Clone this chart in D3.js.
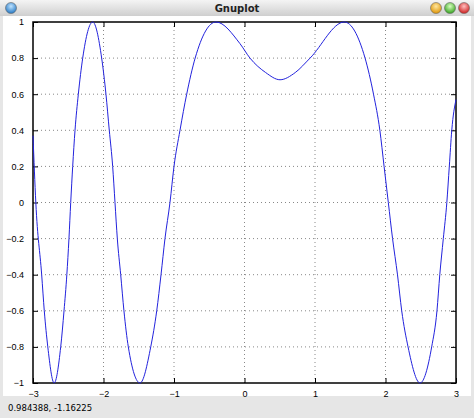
<!DOCTYPE html>
<html><head><meta charset="utf-8">
<script src="https://cdn.jsdelivr.net/npm/d3@7"></script>
<style>
html,body{margin:0;padding:0;background:#dcdcdc;}
svg{display:block;font-family:"DejaVu Sans",sans-serif;}
</style></head>
<body><svg id="c" width="474" height="418"></svg>
<script>
// points
const xs = [-3, -2.96, -2.877, -2.84, -2.79, -2.70, -2.607, -2.56, -2.52, -2.49, -2.465, -2.437, -2.404, -2.357, -2.295, -2.153,
  -2.026, -1.965, -1.918, -1.87, -1.837, -1.804, -1.756, -1.71, -1.648, -1.482,
  -1.33, -1.245, -1.184, -1.128, -1.057, -1.0, -0.915, -0.82, -0.70, -0.404,
  -0.064, 0.078, 0.30, 0.504, 0.72, 0.93, 1.416,
  1.71, 1.83, 1.92, 1.98, 2.04, 2.10, 2.17, 2.23, 2.32, 2.49,
  2.655, 2.73, 2.77, 2.82, 2.87, 2.905, 2.94, 3];
const ys = [0.37, 0, -0.4, -0.6, -0.8, -1, -0.8, -0.6, -0.4, -0.2, 0, 0.2, 0.4, 0.6, 0.8, 1,
  0.8, 0.6, 0.4, 0.2, 0, -0.2, -0.4, -0.6, -0.8, -1,
  -0.8, -0.6, -0.4, -0.2, 0, 0.2, 0.4, 0.6, 0.8, 1,
  0.88, 0.8, 0.72, 0.68, 0.72, 0.8, 1,
  0.8, 0.6, 0.4, 0.2, 0, -0.2, -0.4, -0.6, -0.8, -1,
  -0.8, -0.6, -0.4, -0.2, 0, 0.2, 0.4, 0.57];
const xTicks = [-3, -2, -1, 0, 1, 2, 3];
const yTicks = [-1, -0.8, -0.6, -0.4, -0.2, 0, 0.2, 0.4, 0.6, 0.8, 1];
const status = "0.984388, -1.16225";

const svg = d3.select("#c");
const defs = svg.append("defs");
const gr = defs.append("linearGradient").attr("id", "tb").attr("x1", 0).attr("x2", 0).attr("y1", 0).attr("y2", 1);
gr.append("stop").attr("offset", 0).attr("stop-color", "#f4f4f4");
gr.append("stop").attr("offset", 1).attr("stop-color", "#cfcfcf");

// window chrome
svg.append("rect").attr("width", 474).attr("height", 418).attr("fill", "#e6e6e6");
svg.append("rect").attr("width", 474).attr("height", 16).attr("fill", "url(#tb)");
svg.append("text").attr("x", 237).attr("y", 12).attr("text-anchor", "middle")
  .attr("font-size", 10).attr("font-weight", "bold").attr("fill", "#222").text("Gnuplot");
const btn = (cx, c1, c2) => {
  const id = "b" + cx;
  const g2 = defs.append("radialGradient").attr("id", id).attr("cx", 0.5).attr("cy", 0.35).attr("r", 0.6);
  g2.append("stop").attr("offset", 0).attr("stop-color", c1);
  g2.append("stop").attr("offset", 1).attr("stop-color", c2);
  svg.append("circle").attr("cx", cx).attr("cy", 8).attr("r", 5.5).attr("fill", `url(#${id})`).attr("stroke", "#666").attr("stroke-width", 0.6);
};
btn(11, "#bfe3ff", "#2f7fc8");
btn(436, "#ffe7a0", "#e09a10");
btn(450, "#d8ffc0", "#3ea828");
btn(464, "#ffc0c0", "#d02828");
svg.append("rect").attr("x", 3).attr("y", 16).attr("width", 468).attr("height", 380).attr("fill", "#fff");

const x = d3.scaleLinear().domain([-3, 3]).range([33, 456]);
const y = d3.scaleLinear().domain([-1, 1]).range([383, 22]);

// grid
svg.append("g").selectAll("line").data(xTicks.slice(1, -1)).join("line")
  .attr("x1", d => x(d)).attr("x2", d => x(d)).attr("y1", y(1)).attr("y2", y(-1))
  .attr("stroke", "#888").attr("stroke-dasharray", "1,3");
svg.append("g").selectAll("line").data(yTicks.slice(1, -1)).join("line")
  .attr("y1", d => y(d)).attr("y2", d => y(d)).attr("x1", x(-3)).attr("x2", x(3))
  .attr("stroke", "#888").attr("stroke-dasharray", "1,3");

// axes with mirrored inward ticks
const fmt = d => String(d).replace("-", "−");
const ax = (gen, tr) => svg.append("g").attr("transform", tr).call(gen)
  .call(g => { g.select(".domain").remove(); g.selectAll("line").attr("stroke", "#000"); g.selectAll("text").attr("font-size", 9).attr("fill", "#000"); });
ax(d3.axisBottom(x).tickValues(xTicks).tickSize(-5).tickPadding(8).tickFormat(fmt), `translate(0,${y(-1)})`);
ax(d3.axisTop(x).tickValues(xTicks).tickSize(-5).tickFormat(""), `translate(0,${y(1)})`);
ax(d3.axisLeft(y).tickValues(yTicks).tickSize(-5).tickPadding(9).tickFormat(fmt), `translate(${x(-3)},0)`);
ax(d3.axisRight(y).tickValues(yTicks).tickSize(-5).tickFormat(""), `translate(${x(3)},0)`);

svg.append("rect").attr("x", x(-3)).attr("y", y(1)).attr("width", x(3) - x(-3)).attr("height", y(-1) - y(1))
  .attr("fill", "none").attr("stroke", "#000").attr("stroke-width", 1.5);

const pts = xs.map((v, i) => [v, ys[i]]);
svg.append("path").datum(pts).attr("fill", "none").attr("stroke", "#2222dd").attr("stroke-width", 1)
  .attr("d", d3.line().x(d => x(d[0])).y(d => y(d[1])).curve(d3.curveMonotoneX));

svg.append("text").attr("x", 8).attr("y", 411).attr("font-size", 8.5).attr("fill", "#000").text(status);
</script></body></html>
